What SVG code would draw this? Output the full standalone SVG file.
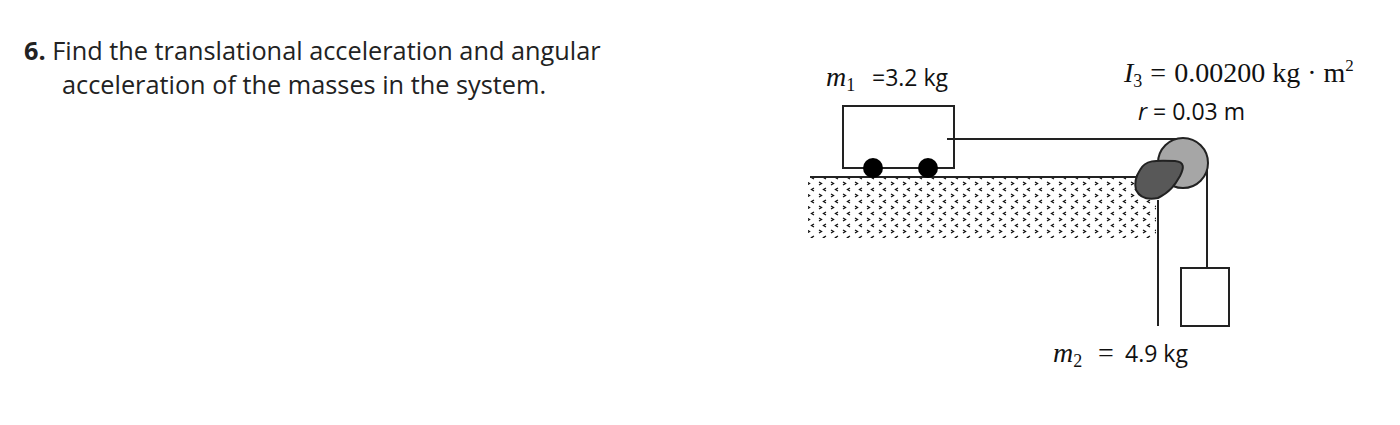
<svg xmlns="http://www.w3.org/2000/svg" width="1400" height="425" viewBox="0 0 1400 425">
<style>
.t{font-family:"Open Sans","Noto Sans","Liberation Sans",sans-serif;font-size:25.3px;fill:#222}
.m{font-family:"Liberation Serif","DejaVu Serif",serif;font-size:28px;fill:#111}
.s{font-family:"Open Sans","Liberation Sans",sans-serif;font-size:23px;fill:#111}
.ln{stroke:#222;stroke-width:2;fill:none}
</style>
<defs>
<pattern id="dots" width="12" height="12" patternUnits="userSpaceOnUse">
<path d="M3 2l2.5 1.5l-2.5 1.5M10 8l-2.5 1.5l2.5 1.5" stroke="#111" stroke-width="1.3" fill="none"/>
</pattern>
</defs>
<rect width="1400" height="425" fill="#fff"/>
<text class="t" x="24" y="60"><tspan font-weight="bold">6.</tspan> Find the translational acceleration and angular</text>
<text class="t" x="62" y="94">acceleration of the masses in the system.</text>
<text class="m" x="826" y="86" font-style="italic">m<tspan font-size="18" dy="5" font-style="normal">1</tspan></text>
<text class="s" x="872" y="86">=3.2 kg</text>
<text class="m" x="1124" y="82"><tspan font-style="italic">I</tspan><tspan font-size="18" dy="5">3</tspan><tspan dy="-5" dx="8">=</tspan><tspan dx="8">0.00200</tspan><tspan dx="7">kg · m</tspan><tspan font-size="17" dy="-11">2</tspan></text>
<text class="s" x="1138" y="120"><tspan font-style="italic">r</tspan> = 0.03 m</text>
<text class="m" x="1053" y="362" font-style="italic">m<tspan font-size="18" dy="5" font-style="normal">2</tspan></text>
<text class="m" x="1098" y="362">=</text>
<text class="s" x="1125" y="362">4.9 kg</text>
<g id="ground">
<rect x="808" y="178" width="348" height="60" fill="url(#dots)"/>
<line class="ln" x1="810" y1="177" x2="1140" y2="177"/>
</g>
<g id="m1">
<rect class="ln" x="843" y="106" width="111" height="62" fill="#fff"/>
<circle cx="873" cy="168" r="10" fill="#000"/>
<circle cx="928" cy="168" r="10" fill="#000"/>
</g>
<g id="connectors">
<line class="ln" x1="947" y1="139" x2="1183" y2="139"/>
<line class="ln" x1="1207" y1="163" x2="1207" y2="268"/>
<line class="ln" x1="1158" y1="200" x2="1158" y2="326"/>
</g>
<g id="pulley">
<circle cx="1183" cy="163" r="25" fill="#a6a6a6" stroke="#222" stroke-width="2"/>
<path d="M1140 170 C1145 160 1155 160 1175 161 C1185 162 1184 168 1180 176 C1175 185 1170 192 1158 198 C1148 200 1140 198 1136 190 C1134 182 1136 176 1140 170Z" fill="#585858" stroke="#222" stroke-width="2"/>
</g>
<g id="m2">
<rect class="ln" x="1181" y="268" width="48" height="58" fill="#fff"/>
</g>
</svg>
